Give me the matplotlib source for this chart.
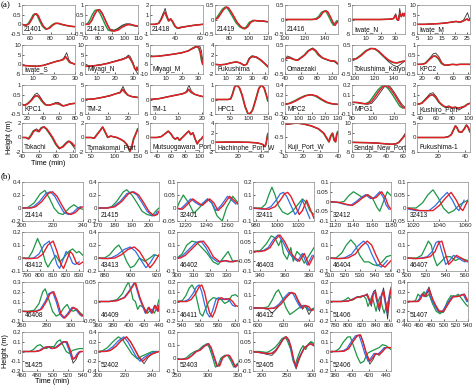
import matplotlib
matplotlib.use('Agg')
import matplotlib.pyplot as plt
from matplotlib.ticker import FuncFormatter

plt.rcParams['font.family'] = ['Liberation Sans', 'DejaVu Sans']

# ---------------- (a) panels: red = model, green lag (min), obs = observed ----------------
A_21401 = dict(name='21401', xlim=(52, 104), xt=[60, 80, 100], yt=[-0.5, 0, 0.5, 1], g_lag=-1,
    red=[(52,0),(56,-0.05),(59,0.03),(62,0.3),(64,0.5),(66,0.55),(68,0.45),(70,0.2),(73,-0.1),(76,-0.25),(79,-0.2),(82,-0.05),(85,0.05),(88,0.05),(91,0),(95,-0.05),(100,-0.1),(104,-0.12)])
A_21413 = dict(name='21413', xlim=(70, 110), xt=[70, 80, 90, 100, 110], yt=[-0.5, 0, 0.5, 1], g_lag=-1.5,
    red=[(70,0),(73,0),(75,0.2),(77,0.5),(79,0.72),(81,0.75),(83,0.55),(85,0.25),(87,-0.05),(89,-0.3),(92,-0.35),(95,-0.3),(98,-0.15),(101,-0.05),(104,0),(107,-0.05),(110,-0.1)],
    obs=[(70,0),(73,0.02),(75,0.15),(77,0.45),(79,0.7),(81,0.78),(83,0.6),(85,0.3),(87,0),(89,-0.25),(92,-0.3),(95,-0.2),(98,-0.05),(101,0.03),(104,0.02),(107,-0.05),(110,-0.1)])
A_21418 = dict(name='21418', xlim=(20, 62), xt=[40, 60], yt=[-1, 0, 1, 2], g_lag=-0.5,
    red=[(20,0),(24,0),(27,0.1),(29,0.5),(31,1.1),(32,1.25),(33.5,0.8),(35,0.35),(36.5,0.55),(38,0.3),(40,-0.2),(42,-0.4),(45,-0.3),(50,-0.2),(55,-0.1),(62,0)],
    obs=[(20,0),(24,0),(27,0.1),(29,0.6),(31,1.3),(32,1.65),(33.5,0.9),(35,0.35),(36.5,0.6),(38,0.3),(40,-0.2),(42,-0.45),(45,-0.35),(50,-0.2),(55,-0.1),(62,0)])
A_21419 = dict(name='21419', xlim=(65, 120), xt=[80, 100, 120], yt=[-0.5, 0, 0.5], g_lag=-1.5,
    red=[(65,0),(68,0.05),(71,0.2),(74,0.35),(77,0.43),(79,0.4),(82,0.25),(85,0.08),(88,-0.1),(92,-0.25),(96,-0.32),(99,-0.25),(102,-0.1),(106,-0.03),(110,-0.05),(115,-0.05),(120,-0.08)])
A_21416 = dict(name='21416', xlim=(100, 153), xt=[100, 120, 140], yt=[-0.5, 0, 0.5], g_lag=-1.5,
    red=[(100,0),(120,0),(128,0),(132,0.02),(135,0.1),(138,0.25),(141,0.3),(143,0.25),(146,0.05),(148,-0.1),(150,-0.2),(152,-0.1),(153,-0.05)])
A_IWN = dict(name='Iwate_N', xlim=(0, 37), xt=[10, 20, 30], yt=[-5, 0, 5], g_lag=-0.2,
    red=[(0,0),(10,0),(20,0),(26,0.1),(29,0.3),(30.5,1.5),(31.5,0),(32.5,-0.3),(33.5,2.2),(34.5,1),(35.5,2),(36.3,1.2),(37,2)],
    obs=[(0,0),(20,0),(26,0.1),(29,0.3),(30.5,2),(31.5,0),(32.5,-0.2),(33.3,3.8),(34.3,1),(35.5,2.3),(36.3,1.2),(37,2.2)])
A_IWM = dict(name='Iwate_M', xlim=(5, 26), xt=[5, 10, 15, 20, 25], yt=[-5, 0, 5, 10], g_lag=-0.2,
    red=[(5,0),(8,0),(11,0.2),(14,0.4),(17,0.8),(19,1.2),(20.5,1.5),(22,1.2),(23.5,1.8),(24.5,2.5),(25,2.8),(25.5,2),(26,2.3)],
    obs=[(5,0),(8,0),(11,0.2),(14,0.4),(17,0.8),(19,1.2),(20.5,1.4),(22,1.1),(23,1.3),(24,3.5),(25,6),(25.6,3.5),(26,2.5)])
A_IWS = dict(name='Iwate_S', xlim=(4.5, 30), xt=[10, 20, 30], yt=[-5, 0, 5, 10], g_lag=-0.2,
    red=[(4.5,-0.5),(8,-0.8),(12,-1),(15,-0.5),(18,0.5),(21,1.5),(23,2),(24.5,2.5),(25.5,4),(26.5,2.5),(27.5,1),(29,0.5),(30,0)],
    obs=[(4.5,-0.5),(8,-0.8),(12,-1),(15,-0.5),(18,0.5),(21,1.5),(23,2),(24.5,3),(25.5,5),(26,6),(27,2.5),(28,1),(30,0)])
A_MYN = dict(name='Miyagi_N', xlim=(3.3, 32.8), xt=[10, 20, 30], yt=[-5, 0, 5, 10], g_lag=-0.2,
    red=[(3.3,-1),(8,-0.8),(12,-0.3),(16,0.5),(20,1.5),(24,2.5),(26,3.2),(27.5,4),(28.5,3),(30,0.5),(31,-2),(31.8,-3),(32.3,-1.5),(32.8,-3)],
    obs=[(3.3,-1),(8,-0.7),(12,-0.2),(16,0.6),(20,1.7),(24,2.8),(26,3.5),(27.5,4.8),(28.5,4),(30,1),(31,-2),(32,-4),(32.8,-5)])
A_MYM = dict(name='Miyagi_M', xlim=(0, 33), xt=[10, 20, 30], yt=[-10, -5, 0, 5], g_lag=-0.3,
    red=[(0,-1),(5,-0.8),(10,-0.3),(15,0.3),(20,1),(24,2),(27,3.5),(29,4.3),(30.5,3.5),(31.5,1),(32.3,-3),(33,-5)],
    obs=[(0,-1),(5,-0.8),(10,-0.3),(15,0.3),(20,1),(24,2),(27,3.2),(29,4),(31,4.5),(32,2),(33,-4)])
A_FKS = dict(name='Fukushima', xlim=(2, 42), xt=[10, 20, 30, 40], yt=[-2, 0, 2, 4], g_lag=-0.3,
    red=[(2,0),(6,-0.1),(10,0),(14,0.3),(18,0.5),(21,0.3),(24,-0.2),(26,0),(28,1.2),(30,1.6),(33,1.5),(36,1),(39,0.3),(42,-0.5)],
    obs=[(2,0),(6,-0.1),(10,0),(14,0.3),(18,0.5),(21,0.3),(24,-0.2),(26,0),(28,1.3),(30,1.8),(33,1.6),(36,1.1),(39,0.4),(42,-0.4)])
A_OMZ = dict(name='Omaezaki', xlim=(40, 107), xt=[40, 60, 80, 100], yt=[-0.5, 0, 0.5], g_lag=-1,
    red=[(40,0),(43,0.05),(47,0.05),(52,0),(56,-0.03),(60,0.05),(65,0.15),(70,0.3),(75,0.37),(79,0.3),(83,0.15),(88,0.05),(93,0),(98,-0.05),(103,-0.05),(107,-0.15)],
    obs=[(40,0),(43,0.12),(47,0.08),(52,0),(56,-0.03),(60,0.05),(65,0.15),(70,0.32),(75,0.4),(79,0.32),(83,0.18),(88,0.05),(93,0),(98,-0.05),(103,-0.08),(107,-0.15)])
A_TKK = dict(name='Tokushima_Kaiyo', xlim=(97, 152), xt=[100, 120, 140], yt=[-0.5, 0, 0.5], g_lag=-1,
    red=[(97,0),(102,0.03),(107,0.15),(112,0.3),(117,0.38),(121,0.37),(125,0.28),(130,0.12),(135,-0.02),(140,-0.1),(144,-0.12),(148,-0.08),(152,-0.05)],
    obs=[(97,0),(102,0.03),(107,0.15),(112,0.3),(117,0.38),(121,0.37),(125,0.28),(130,0.1),(135,-0.08),(140,-0.2),(144,-0.25),(148,-0.15),(152,-0.05)])
A_KPC2 = dict(name='KPC2', xlim=(14, 82), xt=[20, 40, 60, 80], yt=[-0.5, 0, 0.5, 1], g_lag=-1,
    red=[(14,0),(20,0),(25,0.05),(30,0.25),(35,0.42),(38,0.43),(42,0.3),(46,0.05),(50,-0.05),(55,-0.03),(60,0),(65,-0.02),(70,0),(75,0),(82,0)],
    obs=[(14,0),(20,0),(25,0.05),(30,0.3),(35,0.55),(38,0.58),(42,0.4),(46,0.08),(50,-0.05),(55,-0.03),(60,0),(65,-0.02),(70,0),(75,0),(82,0)])
A_KPC1 = dict(name='KPC1', xlim=(13, 80), xt=[20, 40, 60, 80], yt=[-0.5, 0, 0.5, 1], g_lag=-1,
    red=[(13,0),(17,-0.05),(21,0.05),(25,0.2),(29,0.4),(32,0.45),(35,0.38),(39,0.15),(43,-0.02),(47,-0.05),(52,0),(56,0.05),(60,0.02),(65,-0.08),(69,-0.05),(74,0.02),(80,0.05)],
    obs=[(13,0),(17,-0.05),(21,0.05),(25,0.25),(29,0.5),(32,0.58),(35,0.45),(39,0.18),(43,-0.02),(47,-0.05),(52,0.02),(56,0.1),(59,0.1),(62,0.02),(65,-0.08),(69,-0.05),(74,0.02),(80,0.05)])
A_TM2 = dict(name='TM-2', xlim=(-1.5, 25), xt=[0, 10, 20], yt=[-5, 0, 5], g_lag=-0.2,
    red=[(-1.5,0),(3,0.2),(7,0.7),(11,1.3),(14,2),(16,2.3),(17.5,3.5),(18.5,2.5),(20,1.5),(22,1),(25,0.7)],
    obs=[(-1.5,0),(3,0.2),(7,0.7),(11,1.3),(14,2),(16,2.5),(17.5,4.5),(18.5,3),(20,1.5),(22,1),(25,0.7)])
A_TM1 = dict(name='TM-1', xlim=(-2, 20.5), xt=[0, 10, 20], yt=[-5, 0, 5], g_lag=-0.2,
    red=[(-2,0),(2,0.3),(6,1),(9,1.5),(12,2),(13.5,2.5),(14.5,3.5),(15.5,2.5),(17,1.8),(19,1.3),(20.5,1)],
    obs=[(-2,0),(2,0.3),(6,1),(9,1.5),(12,2),(13.5,2.8),(14.5,5),(15.5,3),(17,1.8),(19,1.3),(20.5,1)])
A_HPC1 = dict(name='HPC1', xlim=(10, 150), xt=[50, 100, 150], yt=[-1, 0, 1], g_lag=-1,
    red=[(10,0),(30,0),(45,0),(52,0.05),(57,0.4),(62,0.85),(68,1),(75,0.8),(82,0.3),(90,-0.5),(97,-0.95),(103,-1),(110,-0.7),(118,0),(126,0.75),(133,1),(140,0.8),(146,0.3),(150,-0.1)])
A_MPC2 = dict(name='MPC2', xlim=(90, 130), xt=[90, 100, 110, 120, 130], yt=[-0.2, 0, 0.2, 0.4], g_lag=-1,
    red=[(90,0),(94,0.02),(98,0.07),(102,0.13),(106,0.18),(110,0.2),(114,0.17),(118,0.1),(122,0.04),(126,0.01),(130,0)])
A_MPG1 = dict(name='MPG1', xlim=(80, 131), xt=[80, 100, 120], yt=[-0.1, 0, 0.1, 0.2], g_lag=-2,
    red=[(80,0.02),(85,0.02),(90,0.01),(95,0.005),(99,0.03),(103,0.09),(107,0.15),(111,0.19),(114,0.19),(117,0.16),(121,0.1),(125,0.03),(128,-0.02),(131,-0.04)],
    obs=[(80,0.02),(85,0.02),(90,0.01),(95,0.0),(99,0.01),(103,0.06),(107,0.12),(111,0.18),(114,0.2),(117,0.18),(121,0.12),(125,0.05),(128,0),(131,-0.03)])
A_KSR = dict(name='Kushiro_Port', xlim=(36, 102), xt=[40, 60, 80, 100], yt=[-1, 0, 1, 2], g_lag=-1,
    red=[(36,0),(42,0.1),(47,0.5),(52,0.9),(56,1),(60,0.7),(64,0.2),(68,-0.1),(72,-0.3),(76,-0.2),(80,-0.35),(84,-0.3),(88,-0.4),(92,-0.3),(96,-0.2),(99,0),(102,0.1)],
    obs=[(36,0),(42,0.1),(47,0.6),(52,1.1),(56,1.2),(60,0.8),(64,0.2),(68,-0.1),(72,-0.3),(76,-0.2),(80,-0.4),(84,-0.3),(88,-0.6),(92,-0.4),(96,-0.2),(99,0),(102,0.1)])
A_TKC = dict(name='Tokachi', xlim=(40, 102), xt=[40, 60, 80, 100], yt=[-2, 0, 2], g_lag=-1,
    red=[(40,0),(45,0),(48,-0.2),(51,0.3),(54,0.9),(57,1),(60,0.8),(63,1.3),(66,1.45),(69,1.2),(72,0.7),(76,0),(80,-0.9),(84,-1.5),(88,-1.3),(92,-0.8),(95,-0.5),(98,-0.7),(102,-1.2)],
    obs=[(40,0),(45,0),(48,-0.2),(51,0.3),(54,1),(57,1.2),(60,0.9),(63,1.4),(66,1.5),(69,1.1),(72,0.6),(76,-0.1),(80,-1),(84,-1.6),(88,-1.2),(92,-0.7),(95,-0.5),(98,-0.9),(102,-1.6)])
A_TMK = dict(name='Tomakomai_Port', xlim=(37, 150), xt=[50, 100, 150], yt=[-2, 0, 2], g_lag=-1,
    red=[(37,0),(50,0),(57,-0.1),(64,0.5),(70,1),(75,1.45),(80,0.8),(86,0),(92,0.2),(98,0.1),(105,0),(112,-0.2),(120,-0.5),(127,-1),(133,-1.9),(137,-1.3),(141,-0.2),(145,0.4),(150,1.2)])
A_MTS = dict(name='Mutsuogawara_Port_W', xlim=(30, 105), xt=[40, 60, 80, 100], yt=[-5, 0, 5], g_lag=-0.5,
    red=[(30,0),(40,0),(46,0.3),(51,1.2),(56,2.2),(60,1.2),(63,0),(66,-0.6),(69,0),(72,-1),(75,-0.2),(78,0.5),(82,1.5),(85,2.2),(88,1),(91,1.6),(94,-0.5),(97,-2.2),(100,-1),(103,-0.5),(105,0.3)])
A_HCN = dict(name='Hachinohe_Port_W', xlim=(0, 46), xt=[20, 40], yt=[-2, 0, 2, 4], g_lag=-0.3,
    red=[(0,0),(10,0.05),(20,0.05),(30,0),(36,-0.1),(40,-0.3),(42,-0.5),(43.5,-0.9),(44.5,-0.2),(45.3,1),(46,1.8)])
A_KUJ = dict(name='Kuji_Port_W', xlim=(10, 40), xt=[10, 20, 30, 40], yt=[-1, -0.5, 0], g_lag=-0.3,
    red=[(10,-0.05),(14,-0.02),(17,0),(21,-0.04),(25,-0.1),(29,-0.2),(32,-0.35),(34,-0.55),(35,-0.65),(36,-0.45),(37,-0.35),(38,-0.6),(38.7,-0.65),(39.4,-0.4),(40,-0.3)])
A_SND = dict(name='Sendai_New_Port', xlim=(0, 62), xt=[0, 20, 40, 60], yt=[-5, 0, 5, 10], g_lag=-0.5,
    red=[(0,0),(10,-0.1),(20,-0.2),(30,-0.4),(40,-0.8),(47,-1),(52,-0.7),(55,0),(58,1.5),(60,2.5),(62,3.5)],
    obs=[(0,0),(10,-0.1),(20,-0.2),(30,-0.4),(40,-0.8),(47,-1),(52,-0.7),(55,0),(58,1.8),(60,3),(62,4.5)])
A_FK1 = dict(name='Fukushima-1', xlim=(5, 43.5), xt=[20, 40], yt=[-5, 0, 5], g_lag=-0.3,
    red=[(5,0),(15,0),(25,0),(28,0.3),(30,1),(31.5,2.5),(33,4),(34,3.5),(35.5,2),(37.5,1.8),(39.5,3),(41,4.3),(42.3,3.5),(43.5,2)])

A_ORDER = [A_21401, A_21413, A_21418, A_21419, A_21416, A_IWN, A_IWM,
           A_IWS, A_MYN, A_MYM, A_FKS, A_OMZ, A_TKK, A_KPC2,
           A_KPC1, A_TM2, A_TM1, A_HPC1, A_MPC2, A_MPG1, A_KSR,
           A_TKC, A_TMK, A_MTS, A_HCN, A_KUJ, A_SND, A_FK1]

# ---------------- (b) panels: red, green, blue lag (min), obs ----------------
B_21414 = dict(name='21414', xlim=(200, 240), xt=[200, 220, 240], yt=[-0.2, 0, 0.2, 0.4], b_lag=-1.5,
    red=[(200,0),(206,0),(209,0.02),(213,0.1),(217,0.22),(220,0.25),(223,0.18),(226,0.05),(229,-0.07),(232,-0.1),(235,-0.07),(238,0),(240,0.02)],
    green=[(200,0),(204,0.01),(208,0.08),(212,0.22),(215,0.27),(218,0.15),(221,0),(224,-0.08),(227,-0.1),(231,0),(234,0.05),(237,0),(240,-0.02)])
B_21415 = dict(name='21415', xlim=(170, 206), xt=[170, 180, 190, 200], yt=[-0.2, 0, 0.2, 0.4], b_lag=-1,
    red=[(170,0),(176,0),(180,0.02),(184,0.1),(188,0.22),(191,0.25),(194,0.2),(197,0.08),(200,-0.05),(203,-0.12),(205,-0.1),(206,-0.05)],
    green=[(170,0),(175,0),(178,0.02),(181,0.1),(185,0.25),(187,0.28),(190,0.2),(193,0.08),(196,-0.05),(199,-0.1),(202,-0.12),(204,-0.05),(206,0)])
B_32401 = dict(name='32401', xlim=(1212, 1270), xt=[1220, 1240, 1260], yt=[-0.05, 0, 0.05, 0.1], b_lag=-2,
    red=[(1212,0),(1217,-0.005),(1221,0.01),(1227,0.035),(1232,0.02),(1236,0.01),(1243,0.035),(1247,0.02),(1251,-0.01),(1256,0.01),(1262,0.045),(1266,0.03),(1270,0.015)],
    green=[(1212,0),(1214,0.02),(1218,0.05),(1223,0.02),(1228,-0.02),(1233,0),(1241,0.035),(1245,0.02),(1250,-0.03),(1255,-0.05),(1259,0),(1265,0.045),(1270,0.02)])
B_32411 = dict(name='32411', xlim=(977, 1035), xt=[980, 1000, 1020], yt=[-0.1, 0, 0.1, 0.2], b_lag=-4,
    red=[(977,0),(985,-0.005),(992,-0.01),(998,0.01),(1003,0.06),(1007,0.11),(1010,0.12),(1013,0.09),(1017,0.02),(1021,-0.05),(1024,-0.02),(1028,0.06),(1031,0),(1035,-0.08)],
    green=[(977,0),(985,0),(989,0.03),(992,0.1),(995,0.16),(998,0.1),(1001,0.02),(1005,-0.03),(1010,-0.05),(1015,-0.02),(1019,0.02),(1024,0.07),(1028,0.04),(1031,-0.02),(1035,-0.05)])
B_32412 = dict(name='32412', xlim=(1115, 1180), xt=[1120, 1140, 1160, 1180], yt=[-0.1, -0.05, 0, 0.05, 0.1], b_lag=-2,
    red=[(1115,0),(1125,-0.005),(1133,-0.015),(1139,-0.02),(1145,0),(1150,0.02),(1155,0.035),(1160,0.015),(1164,0.02),(1170,0.05),(1174,0.02),(1177,-0.02),(1180,-0.04)],
    green=[(1115,0),(1125,-0.005),(1130,0),(1135,0.03),(1140,0.05),(1145,0.035),(1150,0.02),(1155,0.035),(1160,0.02),(1165,-0.03),(1168,-0.05),(1172,0),(1176,0.05),(1180,0.03)])
B_32413 = dict(name='32413', xlim=(1015, 1062), xt=[1020, 1040, 1060], yt=[-0.05, 0, 0.05, 0.1], b_lag=-3,
    red=[(1015,0),(1025,-0.01),(1035,-0.01),(1040,0.01),(1045,0.04),(1049,0.06),(1053,0.03),(1056,0),(1058,-0.01),(1060,0.01),(1062,0.03)],
    green=[(1015,0),(1022,0),(1027,0.02),(1031,0.05),(1035,0.07),(1039,0.04),(1043,0),(1047,-0.02),(1051,-0.01),(1055,0.01),(1058,0.02),(1062,0.03)])
B_43412 = dict(name='43412', xlim=(786, 833), xt=[790, 800, 810, 820, 830], yt=[-0.1, 0, 0.1, 0.2], b_lag=-3,
    red=[(786,0),(792,-0.005),(798,0),(802,0.03),(806,0.1),(810,0.13),(813,0.05),(816,-0.05),(818,-0.08),(820,-0.03),(823,0.05),(825,0.03),(828,-0.04),(830,-0.05),(833,-0.03)],
    green=[(786,0),(791,0),(794,0.05),(798,0.15),(801,0.08),(804,-0.03),(806,-0.07),(809,-0.02),(812,0.02),(815,-0.03),(818,0),(822,0.05),(825,0.07),(828,0.04),(830,0.05),(833,0.02)])
B_43413 = dict(name='43413', xlim=(875, 922), xt=[880, 900, 920], yt=[-0.2, 0, 0.2, 0.4], b_lag=-3,
    red=[(875,0),(882,-0.01),(888,0),(893,0.05),(898,0.13),(903,0.17),(907,0.1),(911,-0.03),(915,-0.15),(918,-0.08),(922,0.05)],
    green=[(875,0),(880,0),(884,0.05),(888,0.15),(891,0.2),(894,0.1),(897,-0.05),(900,-0.15),(903,-0.12),(907,0),(911,-0.05),(915,0),(918,0.05),(922,0.03)])
B_46402 = dict(name='46402', xlim=(300, 337), xt=[300, 310, 320, 330], yt=[-0.1, 0, 0.1, 0.2], b_lag=-1.5,
    red=[(300,0),(302,0),(305,0.02),(309,0.07),(313,0.12),(316,0.13),(319,0.08),(322,0.01),(326,-0.03),(330,-0.02),(333,-0.03),(337,-0.02)],
    green=[(300,0),(303,0.03),(306,0.1),(309,0.13),(312,0.12),(315,0.08),(318,0.04),(322,-0.03),(325,-0.05),(328,0),(331,0.05),(334,-0.03),(337,-0.02)])
B_46403 = dict(name='46403', xlim=(334, 384), xt=[340, 360, 380], yt=[-0.1, -0.05, 0, 0.05, 0.1], b_lag=-1.5,
    red=[(334,0),(340,0),(344,0.005),(348,0.02),(352,0.06),(356,0.085),(360,0.05),(364,0),(368,-0.03),(372,-0.05),(376,-0.01),(380,-0.07),(384,-0.02)],
    green=[(334,0),(340,0.005),(345,0.04),(349,0.08),(352,0.07),(355,0.03),(357,0.06),(359,-0.01),(362,-0.04),(365,0.02),(367,-0.05),(370,0),(373,-0.02),(376,-0.06),(380,-0.02),(384,0.02)])
B_46404 = dict(name='46404', xlim=(510, 551), xt=[510, 520, 530, 540, 550], yt=[-0.1, 0, 0.1, 0.2], b_lag=-2.5,
    red=[(510,0),(516,-0.005),(522,0),(527,0.03),(531,0.09),(535,0.13),(538,0.1),(541,0.02),(544,-0.05),(547,-0.07),(551,-0.02)],
    green=[(510,0),(514,0),(518,0.04),(521,0.1),(524,0.14),(527,0.1),(530,0.02),(533,-0.03),(536,-0.03),(539,-0.05),(542,-0.06),(545,-0.03),(548,0.01),(551,0.02)])
B_46407 = dict(name='46407', xlim=(500, 563), xt=[500, 520, 540, 560], yt=[-0.1, 0, 0.1, 0.2], b_lag=-3,
    red=[(500,0),(510,-0.005),(518,0),(524,0.01),(529,0.05),(533,0.12),(536,0.13),(539,0.05),(543,-0.05),(547,-0.02),(551,0.02),(556,0),(560,-0.02),(563,-0.03)],
    green=[(500,0),(510,0),(515,0.02),(519,0.08),(522,0.13),(525,0.1),(528,0),(531,-0.06),(535,-0.03),(540,0.01),(545,0.01),(550,-0.02),(555,0),(563,-0.02)])
B_46408 = dict(name='46408', xlim=(260, 310), xt=[260, 280, 300], yt=[-0.1, 0, 0.1, 0.2, 0.3], b_lag=-1,
    red=[(260,0),(266,-0.005),(272,0),(276,0.02),(280,0.1),(283,0.18),(286,0.2),(289,0.1),(292,-0.03),(295,-0.07),(298,-0.03),(302,0.04),(305,0.02),(308,-0.03),(310,-0.05)],
    green=[(260,0),(265,0),(270,0.01),(274,0.08),(277,0.2),(279,0.23),(282,0.12),(285,0),(288,-0.05),(291,-0.03),(294,0.03),(297,0.07),(299,0.02),(302,0),(305,0.02),(308,-0.02),(310,-0.04)])
B_46409 = dict(name='46409', xlim=(360, 440), xt=[360, 380, 400, 420, 440], yt=[-0.05, 0, 0.05], b_lag=-1,
    red=[(360,0),(375,0),(385,0.002),(395,0.01),(401,0.025),(406,0.04),(409,0.05),(412,0.03),(415,0.01),(419,-0.01),(423,-0.03),(427,-0.015),(431,-0.03),(435,-0.01),(439,-0.025),(440,-0.01)],
    green=[(360,0),(375,0),(385,0.005),(392,0.02),(397,0.04),(400,0.05),(403,0.03),(406,0.005),(409,0),(412,-0.02),(415,-0.01),(420,-0.015),(425,-0.03),(430,-0.02),(434,-0.03),(438,-0.01),(440,0.005)])
B_46411 = dict(name='46411', xlim=(534, 603), xt=[540, 560, 580, 600], yt=[-0.2, -0.1, 0, 0.1, 0.2], b_lag=-3,
    red=[(534,0),(540,0),(545,0),(550,0.02),(555,0.08),(559,0.15),(562,0.17),(565,0.1),(568,-0.02),(571,-0.12),(574,-0.16),(577,-0.1),(581,0.02),(584,0.04),(588,0.02),(593,0.03),(597,0),(600,-0.04),(603,-0.05)],
    green=[(534,0),(540,0.01),(544,0.06),(548,0.14),(551,0.17),(554,0.12),(557,0),(560,-0.12),(563,-0.15),(566,-0.08),(570,0),(575,0.04),(579,0.03),(584,0.02),(588,-0.02),(592,0),(596,0.06),(600,0.07),(603,0.05)])
B_46412 = dict(name='46412', xlim=(596, 644), xt=[600, 620, 640], yt=[-0.1, 0, 0.1, 0.2], b_lag=-1.5,
    red=[(596,0),(602,0),(608,-0.005),(614,0),(618,0.03),(622,0.08),(626,0.12),(629,0.11),(632,0.05),(635,0),(637,0.02),(640,0.01),(642,-0.02),(644,-0.01)],
    green=[(596,0),(604,0),(608,0.01),(611,0.06),(614,0.12),(616,0.14),(619,0.08),(622,0),(625,-0.05),(628,-0.03),(632,0),(636,0.02),(640,-0.02),(644,0)],
    obs=[(596,0),(602,0),(608,-0.01),(611,-0.04),(614,-0.01),(618,0.03),(622,0.08),(626,0.12),(629,0.11),(632,0.04),(635,-0.01),(637,0.02),(640,-0.05),(642,-0.02),(644,-0.01)])
B_51406 = dict(name='51406', xlim=(773, 863), xt=[780, 800, 820, 840, 860], yt=[-0.2, -0.1, 0, 0.1, 0.2], b_lag=-1,
    red=[(773,0),(790,0),(800,0.005),(806,0.02),(812,0.04),(818,0.05),(824,0.06),(828,0.07),(831,0.02),(834,-0.03),(837,0.08),(840,0.1),(843,0),(846,-0.08),(849,0.05),(852,0.11),(855,0),(858,-0.12),(861,0.05),(863,0.12)],
    green=[(773,0),(790,0),(796,0.02),(800,0.04),(804,0.01),(808,0.02),(813,0.05),(818,0.04),(822,0.06),(826,0.03),(829,-0.05),(832,0),(835,0.06),(838,-0.02),(841,-0.1),(844,0),(847,0.05),(850,-0.05),(853,-0.12),(856,-0.05),(860,0.02),(863,0.05)],
    obs=[(773,0),(790,0),(800,0.005),(806,0.02),(812,0.04),(818,0.05),(824,0.06),(828,0.08),(831,0.02),(834,-0.05),(837,0.1),(840,0.12),(843,0),(846,-0.1),(849,0.06),(852,0.14),(855,0),(858,-0.18),(861,0.05),(863,0.15)])
B_51407 = dict(name='51407', xlim=(440, 540), xt=[440, 460, 480, 500, 520, 540], yt=[-0.4, -0.2, 0, 0.2, 0.4], b_lag=-2,
    red=[(440,0),(450,0),(458,0),(462,0.05),(466,0.15),(470,0.1),(476,0.25),(482,0.05),(488,-0.1),(493,-0.2),(500,-0.2),(505,-0.1),(510,0),(516,0.1),(522,0.1),(528,0.12),(534,0.15),(540,0)],
    green=[(440,0),(450,0),(454,0.02),(458,0.15),(462,0.1),(468,0.2),(472,0.1),(476,0.15),(482,-0.05),(488,-0.2),(494,-0.25),(500,-0.2),(506,0),(512,0.12),(518,0.1),(524,0.15),(530,0.05),(536,-0.05),(540,-0.1)],
    obs=[(440,0),(450,0),(458,0),(462,0.05),(466,0.17),(470,0.1),(476,0.3),(482,0.05),(488,-0.12),(493,-0.22),(500,-0.22),(505,-0.1),(510,0),(516,0.12),(522,0.1),(528,0.13),(534,0.15),(540,0)])
B_51425 = dict(name='51425', xlim=(460, 540), xt=[460, 480, 500, 520, 540], yt=[-0.2, -0.1, 0, 0.1, 0.2], b_lag=-1.5,
    red=[(460,0),(478,0),(484,0.01),(490,0.04),(495,0.05),(500,0.03),(505,0.04),(510,0.07),(515,0.1),(519,0.1),(523,0.02),(527,-0.08),(531,-0.06),(534,-0.02),(537,0),(540,0)],
    green=[(460,0),(470,0),(475,0.02),(480,0.06),(484,0.07),(488,0.04),(492,0.03),(496,0.05),(502,0.05),(506,0.1),(510,0.12),(514,0.06),(518,0),(522,-0.02),(526,0.01),(530,0.02),(535,0.03),(540,0.03)],
    obs=[(460,0),(478,0),(484,0.01),(490,0.04),(495,0.05),(500,0.03),(505,0.04),(510,0.07),(515,0.1),(519,0.09),(523,0),(527,-0.12),(531,-0.08),(534,-0.02),(537,0),(540,0)])
B_52402 = dict(name='52402', xlim=(200, 245), xt=[200, 220, 240], yt=[-0.4, -0.2, 0, 0.2, 0.4], b_lag=-2,
    red=[(200,0),(205,0),(209,0.02),(213,0.1),(217,0.22),(221,0.3),(224,0.2),(227,0.05),(230,-0.1),(233,-0.2),(236,-0.12),(240,-0.05),(245,0)],
    green=[(200,0),(203,0.01),(207,0.08),(211,0.2),(215,0.3),(218,0.25),(222,0.08),(225,-0.05),(229,-0.15),(232,-0.1),(236,-0.05),(240,0),(245,0)],
    obs=[(200,0),(205,0),(209,0.02),(213,0.1),(217,0.22),(221,0.3),(224,0.2),(227,0.05),(230,-0.12),(234,-0.25),(237,-0.12),(240,-0.05),(245,0)])
B_52403 = dict(name='52403', xlim=(250, 350), xt=[250, 300, 350], yt=[-0.1, 0, 0.1, 0.2], b_lag=-1,
    red=[(250,-0.01),(260,-0.01),(268,-0.005),(275,0.02),(282,0.05),(288,0.06),(295,0.09),(302,0.11),(306,0.08),(311,0.01),(316,-0.06),(320,-0.06),(325,0),(331,0.02),(336,0.02),(341,-0.02),(346,-0.07),(350,-0.05)],
    green=[(250,-0.01),(258,-0.01),(265,0),(272,0.03),(279,0.05),(285,0.06),(292,0.09),(299,0.11),(303,0.08),(308,0.01),(313,-0.07),(317,-0.06),(322,0),(328,0.02),(333,0.02),(338,-0.02),(343,-0.07),(350,-0.04)])
B_52405 = dict(name='52405', xlim=(182, 305), xt=[200, 250, 300], yt=[-0.1, -0.05, 0, 0.05, 0.1], b_lag=-1,
    red=[(182,0),(195,-0.005),(210,-0.01),(220,-0.01),(228,0.005),(235,0.03),(242,0.06),(249,0.075),(254,0.06),(259,0.02),(264,-0.04),(269,-0.08),(274,-0.04),(280,-0.01),(286,0.02),(292,0.03),(298,0.04),(305,0.03)],
    green=[(182,0),(195,0),(210,-0.005),(218,0.005),(226,0.02),(233,0.04),(240,0.065),(247,0.075),(252,0.05),(258,0.01),(263,-0.05),(267,-0.07),(272,-0.03),(278,0.01),(283,0.03),(288,0.01),(294,0.04),(300,0.05),(305,0.04)],
    obs=[(182,0),(195,-0.005),(210,-0.015),(220,-0.02),(228,0),(235,0.03),(242,0.06),(249,0.075),(254,0.06),(259,0.02),(264,-0.05),(269,-0.09),(274,-0.05),(280,-0.01),(286,0.02),(292,0.03),(298,0.05),(305,0.03)])
B_52406 = dict(name='52406', xlim=(374, 446), xt=[380, 400, 420, 440], yt=[-0.2, -0.1, 0, 0.1, 0.2], b_lag=-2,
    red=[(374,0),(385,0),(391,0.005),(396,0.03),(401,0.1),(406,0.16),(410,0.17),(413,0.1),(417,-0.02),(421,-0.1),(425,-0.06),(428,-0.02),(432,-0.03),(436,0),(440,0.04),(446,0.04)],
    green=[(374,0),(380,0),(385,0.03),(390,0.1),(395,0.15),(398,0.15),(402,0.05),(406,-0.05),(410,-0.12),(414,-0.1),(418,-0.02),(422,0),(427,0.02),(432,0.04),(436,0.07),(440,0.06),(446,0.02)],
    obs=[(374,0),(385,0),(391,0.005),(396,0.03),(401,0.1),(406,0.16),(410,0.17),(413,0.1),(417,-0.03),(421,-0.13),(425,-0.08),(428,-0.02),(432,-0.04),(436,0),(440,0.04),(446,0.04)])

B_ORDER = [B_21414, B_21415, B_32401, B_32411, B_32412, B_32413,
           B_43412, B_43413, B_46402, B_46403, B_46404, B_46407,
           B_46408, B_46409, B_46411, B_46412, B_51406, B_51407,
           B_51425, B_52402, B_52403, B_52405, B_52406]

# ---------------- drawing ----------------
W, H = 474, 387
fig = plt.figure(figsize=(W / 100, H / 100), dpi=100)
fmt = FuncFormatter(lambda v, p: f'{v:g}')

C_RED = '#e61e28'
C_GREEN = '#1e9646'
C_BLUE = '#2e6fe6'
C_OBS = '#333333'
TICK_FS = 4.4
NAME_FS = 4.8


def add_ax(left, top, w, h):
    return fig.add_axes([left / W, 1 - (top + h) / H, w / W, h / H])


def xy(pts, lag=0.0):
    return [p[0] + lag for p in pts], [p[1] for p in pts]


def style(ax, p):
    ax.set_xlim(*p['xlim'])
    ax.set_ylim(p['yt'][0], p['yt'][-1])
    ax.set_xticks(p['xt'])
    ax.set_yticks(p['yt'])
    ax.xaxis.set_major_formatter(fmt)
    ax.yaxis.set_major_formatter(fmt)
    ax.tick_params(direction='in', length=1.5, width=0.5, labelsize=TICK_FS, colors='#222222')
    ax.tick_params(axis='x', pad=1.6)
    ax.tick_params(axis='y', pad=0.8)
    for s in ax.spines.values():
        s.set_linewidth(0.5)
        s.set_color('#888888')
    ax.text(0.04, 0.04, p['name'], transform=ax.transAxes, fontsize=NAME_FS, ha='left', va='bottom',
            color='#111111')


A_LEFT = [22, 85, 150, 215, 285, 352, 417]
A_TOP = [5, 45, 85, 123]
for i, p in enumerate(A_ORDER):
    r, c = divmod(i, 7)
    ax = add_ax(A_LEFT[c], A_TOP[r], 53, 29)
    ax.plot(*xy(p['red'], p['g_lag']), color=C_GREEN, lw=1.0)
    ax.plot(*xy(p.get('obs', p['red'])), color=C_OBS, lw=0.6)
    ax.plot(*xy(p['red']), color=C_RED, lw=1.1)
    style(ax, p)
    if p['name'] == 'Tokachi':
        ax.set_ylabel('Height (m)', fontsize=5.2, labelpad=1.5)
        ax.set_xlabel('Time (min)', fontsize=5.2, labelpad=0.5)

B_LEFT = [22, 98, 177, 253, 330, 407]
B_TOP = [182, 232, 282, 332]
for i, p in enumerate(B_ORDER):
    r, c = divmod(i, 6)
    ax = add_ax(B_LEFT[c], B_TOP[r], 61, 39)
    if 'obs' in p:
        ax.plot(*xy(p['obs']), color=C_OBS, lw=0.6)
    ax.plot(*xy(p['green']), color=C_GREEN, lw=0.9)
    ax.plot(*xy(p['red'], p['b_lag']), color=C_BLUE, lw=0.9)
    ax.plot(*xy(p['red']), color=C_RED, lw=1.0)
    style(ax, p)
    if p['name'] == '51425':
        ax.set_ylabel('Height (m)', fontsize=5.2, labelpad=1)
        ax.set_xlabel('Time (min)', fontsize=5.2, labelpad=0)

fig.text(1 / W, 1 - 1 / H, '(a)', fontsize=6.5, ha='left', va='top', family=['Liberation Serif'])
fig.text(1 / W, 1 - 172 / H, '(b)', fontsize=6.5, ha='left', va='top', family=['Liberation Serif'])

fig.savefig('out.png', dpi=100)
